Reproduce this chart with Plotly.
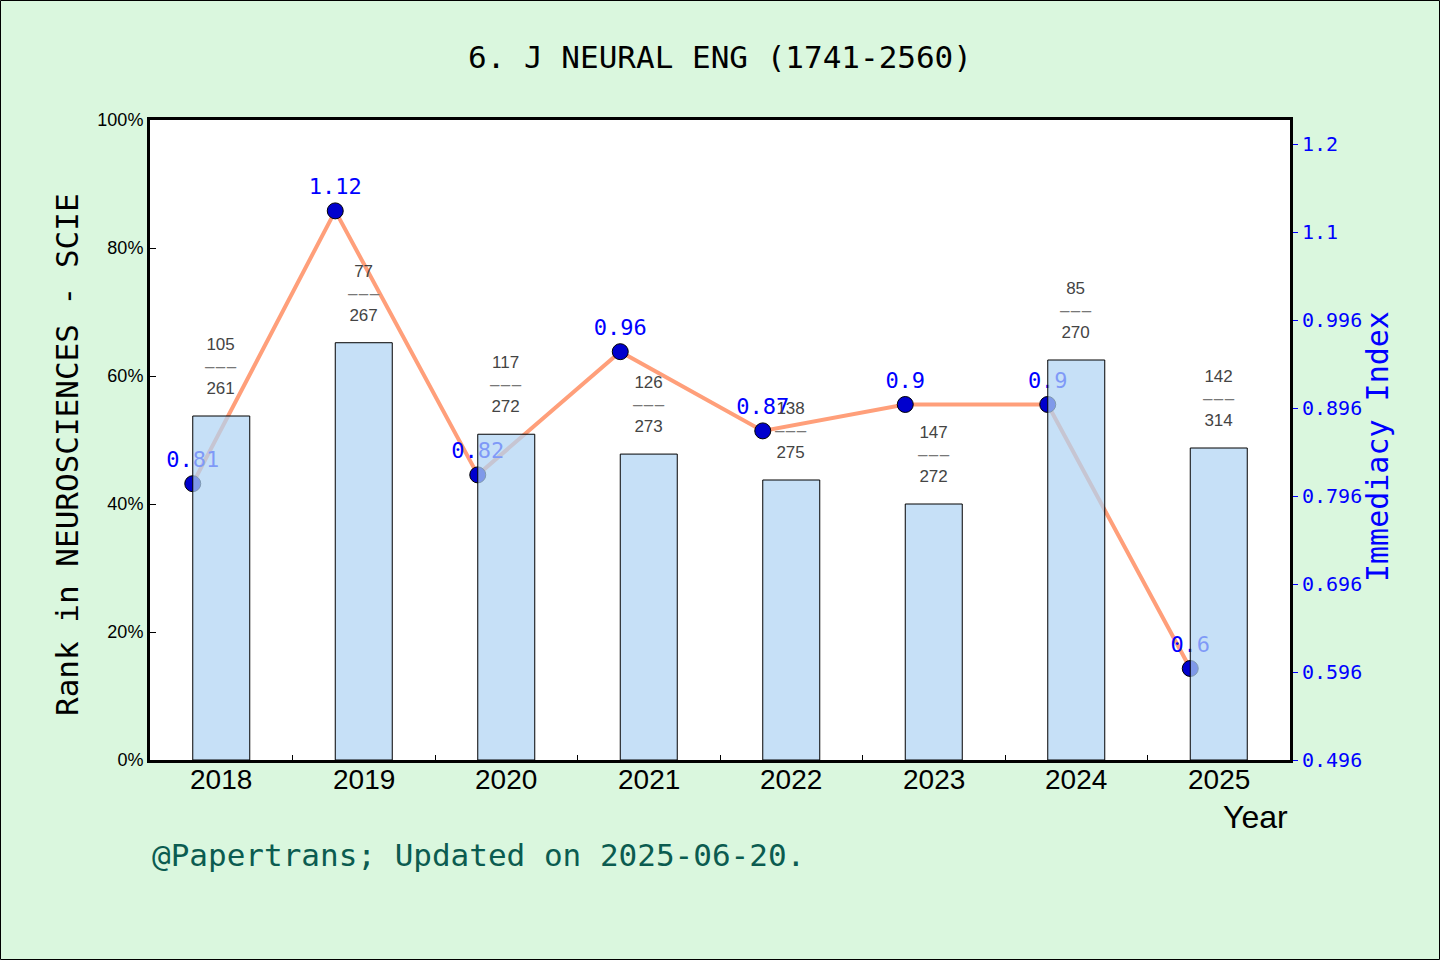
import plotly.graph_objects as go

years = ["2018", "2019", "2020", "2021", "2022", "2023", "2024", "2025"]
rank_pct = [0.5375, 0.652, 0.509, 0.478, 0.4375, 0.40, 0.625, 0.4875]
ranks = [105, 77, 117, 126, 138, 147, 85, 142]
totals = [261, 267, 272, 273, 275, 272, 270, 314]
immediacy = [0.81, 1.12, 0.82, 0.96, 0.87, 0.9, 0.9, 0.6]
right_tickvals = [0.496, 0.596, 0.696, 0.796, 0.896, 0.996, 1.096, 1.196]
right_ticktext = ["0.496", "0.596", "0.696", "0.796", "0.896", "0.996", "1.1", "1.2"]

MONO = "DejaVu Sans Mono"
SANS = "Liberation Sans, Arial, sans-serif"

W, H = 1440, 960
ML, MR, MT, MB = 150, 150, 120, 200
PW, PH = W - ML - MR, H - MT - MB

idx = list(range(len(years)))
line_x = [i - 0.2 for i in idx]

fig = go.Figure()

# Line (under the bars) on primary y (right side)
fig.add_trace(go.Scatter(
    x=line_x, y=immediacy, yaxis="y",
    mode="lines+markers+text",
    line=dict(color="#FF9F7A", width=4),
    marker=dict(size=16, color="#0000CD", line=dict(color="black", width=1)),
    text=[f"{v:g}" for v in immediacy],
    textposition="top center",
    textfont=dict(family=MONO, size=22, color="#0000FF"),
    showlegend=False, hoverinfo="skip",
))

# Bars on overlaying axis (drawn above)
fig.add_trace(go.Bar(
    x=idx, y=rank_pct, yaxis="y2", width=0.4,
    marker=dict(color="rgba(176,212,244,0.72)", line=dict(color="black", width=1)),
    showlegend=False, hoverinfo="skip",
))

annotations = []
for i, (r, t, p) in enumerate(zip(ranks, totals, rank_pct)):
    annotations.append(dict(
        x=i, y=p, xref="x", yref="y2", yanchor="bottom", xanchor="center",
        yshift=16, showarrow=False,
        text=f"{r}<br><span style='color:#777777'>–\u200a–\u200a–</span><br>{t}",
        font=dict(family=SANS, size=17, color="#444444"),
    ))

# x tick labels
for i, yr in zip(idx, years):
    annotations.append(dict(
        x=i, y=0, xref="x", yref="paper", xanchor="center", yanchor="top",
        yshift=-2, showarrow=False, text=yr,
        font=dict(family=SANS, size=28, color="black"),
    ))

annotations.append(dict(
    x=1.0, y=-(817 - 760) / PH, xref="paper", yref="paper", xanchor="right", yanchor="middle",
    text="Year", showarrow=False, font=dict(family=SANS, size=32, color="black"),
))
annotations.append(dict(
    x=0.0, y=-(855 - 760) / PH, xref="paper", yref="paper", xanchor="left", yanchor="middle",
    text="@Papertrans; Updated on 2025-06-20.", showarrow=False,
    font=dict(family=MONO, size=31, color="#0B5C50"),
))
# axis titles
annotations.append(dict(
    x=-(ML - 67) / PW, y=(760 - 455) / PH, xref="paper", yref="paper",
    xanchor="center", yanchor="middle", textangle=-90, showarrow=False,
    text="Rank in NEUROSCIENCES - SCIE",
    font=dict(family=MONO, size=31, color="black"),
))
annotations.append(dict(
    x=1 + (1377 - (W - MR)) / PW, y=(760 - 447) / PH, xref="paper", yref="paper",
    xanchor="center", yanchor="middle", textangle=-90, showarrow=False,
    text="Immediacy Index",
    font=dict(family=MONO, size=30, color="#0000FF"),
))

fig.update_layout(
    width=W, height=H,
    margin=dict(l=ML, r=MR, t=MT, b=MB),
    paper_bgcolor="#DAF7DE",
    plot_bgcolor="white",
    title=dict(text="6. J NEURAL ENG (1741-2560)", x=0.5, xanchor="center",
               y=1 - 57 / H, yanchor="middle",
               font=dict(family=MONO, size=31, color="black")),
    xaxis=dict(
        range=[-0.5, 7.5], tickvals=idx, ticks="", showticklabels=False,
        showline=True, linecolor="black", linewidth=3, mirror=True,
        showgrid=False, zeroline=False,
        minor=dict(tickvals=[i + 0.5 for i in idx[:-1]], ticks="inside", ticklen=5,
                   tickcolor="black", tickwidth=1, showgrid=False),
    ),
    yaxis=dict(
        side="right", range=[0.496, 0.496 + 640 / 880],
        tickvals=right_tickvals, ticktext=right_ticktext,
        ticks="outside", ticklen=5, tickcolor="#0000FF",
        tickfont=dict(family=MONO, size=20, color="#0000FF"),
        ticklabelstandoff=0,
        showline=True, linecolor="black", linewidth=3,
        showgrid=False, zeroline=False,
    ),
    yaxis2=dict(
        overlaying="y", side="left", range=[0, 1],
        tickvals=[0, 0.2, 0.4, 0.6, 0.8, 1.0], tickformat=".0%",
        ticks="inside", ticklen=6, tickcolor="black",
        tickfont=dict(family=SANS, size=18, color="black"),
        showline=True, linecolor="black", linewidth=3,
        showgrid=False, zeroline=False,
    ),
    annotations=annotations,
    shapes=[dict(
        type="rect", xref="paper", yref="paper",
        x0=-(ML - 0.5) / PW, x1=1 + (MR - 0.5) / PW,
        y0=-(MB - 0.5) / PH, y1=1 + (MT - 0.5) / PH,
        line=dict(color="black", width=1), fillcolor="rgba(0,0,0,0)", layer="below",
    )],
)

fig.write_html("out.html")
